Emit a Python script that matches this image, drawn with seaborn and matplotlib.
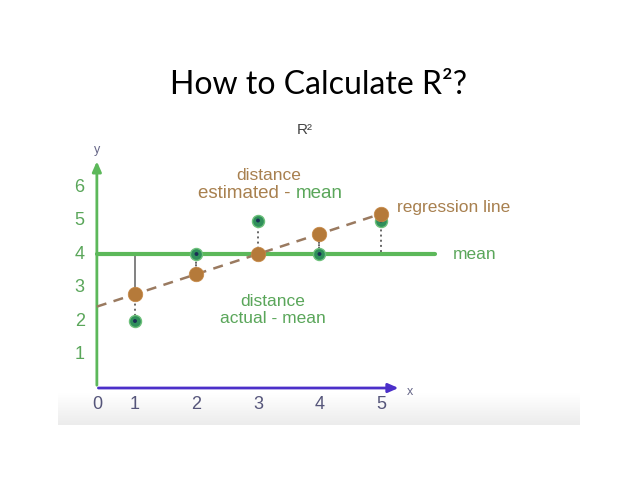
import numpy as np
import matplotlib
matplotlib.use("Agg")
import matplotlib.pyplot as plt
import seaborn as sns
import pandas as pd

# ---- data ----
x_vals = [1, 2, 3, 4, 5]
actual_y = [2, 4, 5, 4, 5]
estimated_y = [2.8, 3.4, 4.0, 4.6, 5.2]
mean_y = 4
line_x = [0.38, 1, 2, 3, 4, 5]
line_y = [2.43, 2.8, 3.4, 4.0, 4.6, 5.2]
x_tick_labels = ["0", "1", "2", "3", "4", "5"]
y_tick_labels = ["1", "2", "3", "4", "5", "6"]
y_tick_vals = [1, 2, 3, 4, 5, 6]

sns.set_theme(style="white")
plt.rcParams["font.family"] = ["Liberation Sans", "DejaVu Sans"]

fig = plt.figure(figsize=(6.38, 4.93), dpi=100)
fig.patch.set_facecolor("white")

fig.text(0.5, 0.828, "How to Calculate R²?", ha="center", va="center",
         fontsize=23, family=["Lato", "DejaVu Sans"], color="black")

ax = fig.add_axes([58/638, (493-425)/493, 522/638, 307/493])
X0, X1 = -0.252, 8.236
Y0, Y1 = -1.104, 8.06
ax.set_xlim(X0, X1)
ax.set_ylim(Y0, Y1)
ax.axis("off")

# background gradient at bottom of picture
grad = np.linspace(0, 1, 50).reshape(-1, 1)
ax.imshow(grad, extent=[X0, X1, Y0, -0.15], aspect="auto", origin="upper",
          cmap=matplotlib.colors.LinearSegmentedColormap.from_list("g", ["#ffffff", "#ececec"]),
          zorder=0)

GREEN = "#5cb85a"
TXTGREEN = "#5aa65a"
BROWN = "#b57a3a"
TXTBROWN = "#a8804f"
PURPLE = "#4b2fc9"
ORIGIN_X = 0.38

# axes arrows
ax.annotate("", xy=(ORIGIN_X, 6.85), xytext=(ORIGIN_X, 0),
            arrowprops=dict(arrowstyle="-|>,head_length=0.5,head_width=0.22", color=GREEN, lw=2))
ax.annotate("", xy=(5.33, 0), xytext=(ORIGIN_X - 0.02, 0),
            arrowprops=dict(arrowstyle="-|>,head_length=0.5,head_width=0.22", color=PURPLE, lw=2))
ax.text(ORIGIN_X, 7.1, "y", ha="center", va="center", fontsize=9, color="#666688")
ax.text(5.42, -0.12, "x", ha="left", va="center", fontsize=9, color="#666688")

# tick labels
for xv, lab in zip([ORIGIN_X] + x_vals, x_tick_labels):
    ax.text(xv, -0.5, lab, ha="center", va="center", fontsize=13, color="#55557a")
for yv, lab in zip(y_tick_vals, y_tick_labels):
    ax.text(0.1, yv, lab, ha="center", va="center", fontsize=13, color=TXTGREEN)

# mean line
ax.plot([ORIGIN_X, 5.88], [mean_y, mean_y], color=GREEN, lw=3, zorder=2)

# regression line
df_line = pd.DataFrame({"x": line_x, "y": line_y})
sns.lineplot(data=df_line, x="x", y="y", ax=ax, color="#9a7a60", lw=1.8,
             linestyle=(0, (4, 3)), zorder=3)

# vertical distances
for xv, a, e in zip(x_vals, actual_y, estimated_y):
    ax.plot([xv, xv], [a, e], color="#666666", lw=1.4, ls=":", zorder=1)
    if xv == 1:
        ax.plot([xv, xv], [e, mean_y], color="#777777", lw=1.3, zorder=1)
    else:
        ax.plot([xv, xv], [e, mean_y], color="#666666", lw=1.4, ls=":", zorder=1)

# points
df_pts = pd.DataFrame({"x": x_vals, "actual": actual_y, "estimated": estimated_y})
sns.scatterplot(data=df_pts, x="x", y="actual", ax=ax, s=75, color="#2f8f5a",
                edgecolor="#6cc07a", linewidth=1, zorder=4)
sns.scatterplot(data=df_pts, x="x", y="actual", ax=ax, s=8, color="#1a2f55",
                edgecolor="none", zorder=5)
sns.scatterplot(data=df_pts, x="x", y="estimated", ax=ax, s=110, color=BROWN,
                edgecolor="#c88a48", linewidth=0.5, zorder=6)

ax.set_xlabel("")
ax.set_ylabel("")
ax.set_xlim(X0, X1)
ax.set_ylim(Y0, Y1)

# annotations
ax.text(3.76, 7.7, "R²", ha="center", va="center", fontsize=11, color="#444444")
ax.text(3.18, 6.33, "distance", ha="center", va="center", fontsize=12.5, color=TXTBROWN)
ax.text(3.62, 5.8, "estimated - ", ha="right", va="center", fontsize=13.5, color=TXTBROWN)
ax.text(3.62, 5.8, "mean", ha="left", va="center", fontsize=13.5, color=TXTGREEN)
ax.text(5.26, 5.4, "regression line", ha="left", va="center", fontsize=12.5, color=TXTBROWN)
ax.text(6.17, 4.0, "mean", ha="left", va="center", fontsize=12.5, color=TXTGREEN)
ax.text(3.24, 2.59, "distance", ha="center", va="center", fontsize=12.5, color=TXTGREEN)
ax.text(3.24, 2.07, "actual - mean", ha="center", va="center", fontsize=12.5, color=TXTGREEN)

fig.savefig("out.png", dpi=100, facecolor="white")
